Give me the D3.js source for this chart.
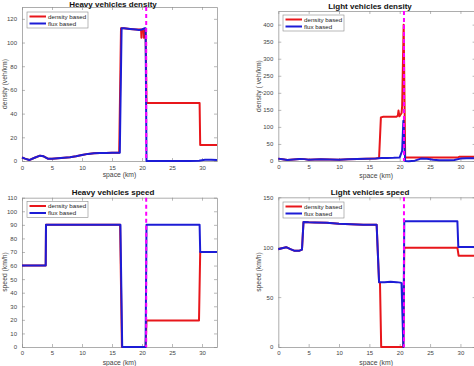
<!DOCTYPE html>
<html><head><meta charset="utf-8">
<script src="https://cdn.jsdelivr.net/npm/d3@7"></script>
<style>
body{margin:0;background:#fff;}
svg{display:block;font-family:"Liberation Sans",Arial,sans-serif;}
</style></head><body>
<svg id="c" width="474" height="366"></svg>
<script>
// ---------- data ----------
const legendLabels = ["density based", "flux based"];
const titles = ["Heavy vehicles density", "Light vehicles density", "Heavy vehicles speed", "Light vehicles speed"];
const yLabels = ["density (veh/km)", "density ( veh/km)", "speed (km/h)", "speed (km/h)"];
const xTicks = [0, 5, 10, 15, 20, 25, 30];
const yTicksHD = [0, 20, 40, 60, 80, 100, 120];
const yTicksLD = [0, 50, 100, 150, 200, 250, 300, 350, 400];
const yTicksHS = [0, 10, 20, 30, 40, 50, 60, 70, 80, 90, 100, 110];
const yTicksLS = [0, 50, 100, 150];
const junction = 20.7;

// Heavy density
const hdFluxX = [0,0.5,1.2,2,3,3.6,4.3,5,6,7,8,9,10,11,12,13,14,15,16.3,16.6,17,18,19,19.5,20,20.4,20.6,20.75,22,25,28,29.5,30.5,31.5,32.5];
const hdFluxY = [3,2,0.8,2.5,4.5,4,2,2,2.3,2.7,3.2,4,5,6,6.5,6.7,6.8,7,7,112,112,111.5,111,110.5,111,112,112,0,0,0,0,0.3,1,1,0.8];
const hdDensX = [0,0.5,1.2,2,3,3.6,4.3,5,6,7,8,9,10,11,12,13,14,15,16.2,16.5,17,18,19,19.85,19.9,19.95,20.25,20.3,20.35,20.6,20.75,29.6,29.7,32.5];
const hdDensY = [3,2,0.8,2.5,4.5,4,2,2,2.3,2.7,3.2,4,5,6,6.5,6.7,6.8,7,7,112,112,111.5,111,111,104,111,111,104,110,110,49,49,13.5,13.5];

// Light density
const ldFluxX = [0,0.7,1.5,2.5,3.5,4.3,5,6,7,8.5,10,11.5,13,14.5,16,17,18,19,20,20.4,20.6,20.9,21.5,22.5,23.5,24.5,25.5,26.5,28,29,30,31,32.5];
const ldFluxY = [7,5,3,4.5,6,5.5,4,4.5,5,4.5,4,5,6,6.5,7,9,9,9.5,10.5,30,118,0,-1,1,7,6.5,4,2.5,2,3,7,8,8];
const ldDensX = [0,0.7,1.5,2.5,3.5,4.3,5,6,7,8.5,10,11.5,13,14.5,16,16.6,16.9,17.3,18.5,19.5,19.7,19.8,19.95,20.1,20.3,20.4,20.65,20.9,25,29.6,29.8,32.5];
const ldDensY = [7,5,3,4.5,6,5.5,4,4.5,5,4.5,4,5,6,6.5,7,9,128,130,130,130,134,148,131,135,140,160,400,10,10,10,12.5,12.5];

// Heavy speed
const hsFluxX = [0,3.95,4.0,16.4,16.7,20.6,20.75,29.6,29.7,32.5];
const hsFluxY = [60,60,90,90,0,0,90,90,70,70];
const hsDensX = [0,3.95,4.0,16.35,16.65,20.6,20.75,29.5,29.7,32.5];
const hsDensY = [60,60,90,90,0,0,19.5,19.5,70,70];

// Light speed
const lsFluxX = [0,0.6,1.3,2,2.6,3.5,3.9,4.15,5,6,8,10,12,14,16.2,16.6,17.5,18.5,19.5,20.1,20.3,20.6,20.75,29.5,29.65,32.5];
const lsFluxY = [98,99,100,98,96.5,96.5,97.5,125.3,125,124.8,124.5,123.5,123,122.5,122.5,65,65,65.5,65,64.5,64,0,126,126,100.2,100.2];
const lsDensX = [0,0.6,1.3,2,2.6,3.5,3.9,4.15,5,6,8,10,12,14,16.2,16.6,16.75,16.95,20.6,20.75,29.5,29.7,32.5];
const lsDensY = [98,99,100,98,96.5,96.5,97.5,125.3,125,124.8,124.5,123.5,123,122.5,122.5,65,64,0,0,99.5,99.5,91.5,91.5];

// ---------- drawing ----------
const svg = d3.select("#c");
const RED = "#e8161b", BLUE = "#1c1cd6", AX = "#8a8a8a", TXT = "#444";

const panels = [
  {box:[22,217,7,161], ydom:[0,130], yt:yTicksHD, dens:[hdDensX,hdDensY], flux:[hdFluxX,hdFluxY],
   title:[113,6.5], ylab:[5,84], xlabY:177, xtY:169.5, leg:[27,12]},
  {box:[278.3,475.6,11,161], ydom:[0,440], yt:yTicksLD, dens:[ldDensX,ldDensY], flux:[ldFluxX,ldFluxY],
   title:[370,8.5], ylab:[259,86], xlabY:177.5, xtY:168.5, leg:[283,15]},
  {box:[22,217,197.7,347], ydom:[0,110], yt:yTicksHS, dens:[hsDensX,hsDensY], flux:[hsFluxX,hsFluxY],
   title:[113,195], ylab:[5,272], xlabY:364.5, xtY:355, leg:[27,201.5]},
  {box:[278.3,475.6,197.3,347], ydom:[0,150], yt:yTicksLS, dens:[lsDensX,lsDensY], flux:[lsFluxX,lsFluxY],
   title:[370,195], ylab:[259,272], xlabY:365, xtY:355, leg:[283,202]}
];

panels.forEach((p, i) => {
  const [x0,x1,y0,y1] = p.box;
  const x = d3.scaleLinear().domain([0,32.5]).range([x0,x1]);
  const y = d3.scaleLinear().domain(p.ydom).range([y1,y0]);
  const g = svg.append("g");

  const styleAxis = a => {
    a.select(".domain").attr("stroke", AX).attr("stroke-width", 0.7);
    a.selectAll(".tick line").attr("stroke", AX).attr("stroke-width", 0.6);
    a.selectAll(".tick text").attr("fill", TXT).attr("font-size", 6);
  };
  g.append("g").attr("transform", `translate(0,${y1})`)
    .call(d3.axisBottom(x).tickValues(xTicks).tickSizeInner(-3).tickSizeOuter(0))
    .call(styleAxis).selectAll(".tick text").attr("dy", null).attr("y", p.xtY - y1);
  g.append("g").attr("transform", `translate(0,${y0})`)
    .call(d3.axisTop(x).tickValues(xTicks).tickSizeInner(-3).tickSizeOuter(0).tickFormat(""))
    .call(styleAxis);
  g.append("g").attr("transform", `translate(${x0},0)`)
    .call(d3.axisLeft(y).tickValues(p.yt).tickSizeInner(-3).tickSizeOuter(0).tickPadding(5))
    .call(styleAxis);
  g.append("g").attr("transform", `translate(${x1},0)`)
    .call(d3.axisRight(y).tickValues(p.yt).tickSizeInner(-3).tickSizeOuter(0).tickFormat(""))
    .call(styleAxis);

  const line = d3.line().x(d => x(d[0])).y(d => y(d[1]));
  const pts = arr => arr[0].map((v,k) => [v, arr[1][k]]);
  g.append("path").datum(pts(p.dens)).attr("d", line)
    .attr("fill","none").attr("stroke",RED).attr("stroke-width",2).attr("stroke-linejoin","round");
  g.append("path").datum(pts(p.flux)).attr("d", line)
    .attr("fill","none").attr("stroke",BLUE).attr("stroke-width",2).attr("stroke-linejoin","round");

  g.append("line").attr("x1", x(junction)).attr("x2", x(junction)).attr("y1", y0).attr("y2", y1)
    .attr("stroke","#ff00ff").attr("stroke-width",2).attr("stroke-dasharray","4,3");

  g.append("text").attr("x", p.title[0]).attr("y", p.title[1]).attr("text-anchor","middle")
    .attr("font-size", 8).attr("font-weight","bold").attr("fill","#111").text(titles[i]);
  g.append("text").attr("x", (x0 + Math.min(x1,474))/2).attr("y", p.xlabY).attr("text-anchor","middle")
    .attr("font-size", 6.8).attr("fill", TXT).text("space (km)");
  g.append("text").attr("transform", `translate(${p.ylab[0]+2},${p.ylab[1]}) rotate(-90)`)
    .attr("text-anchor","middle").attr("font-size", 6.8).attr("fill", TXT).text(yLabels[i]);

  const [lx, ly] = p.leg;
  const lg = g.append("g").attr("transform", `translate(${lx},${ly})`);
  lg.append("rect").attr("width", 61).attr("height", 16).attr("fill","#fff")
    .attr("stroke", AX).attr("stroke-width", 0.6);
  [RED, BLUE].forEach((c, k) => {
    const yy = 4.5 + k * 7;
    lg.append("line").attr("x1", 2.5).attr("x2", 19).attr("y1", yy).attr("y2", yy)
      .attr("stroke", c).attr("stroke-width", 2);
    lg.append("text").attr("x", 21).attr("y", yy + 2.2).attr("font-size", 6.2).attr("fill", "#222")
      .text(legendLabels[k]);
  });
});
</script>
</body></html>
